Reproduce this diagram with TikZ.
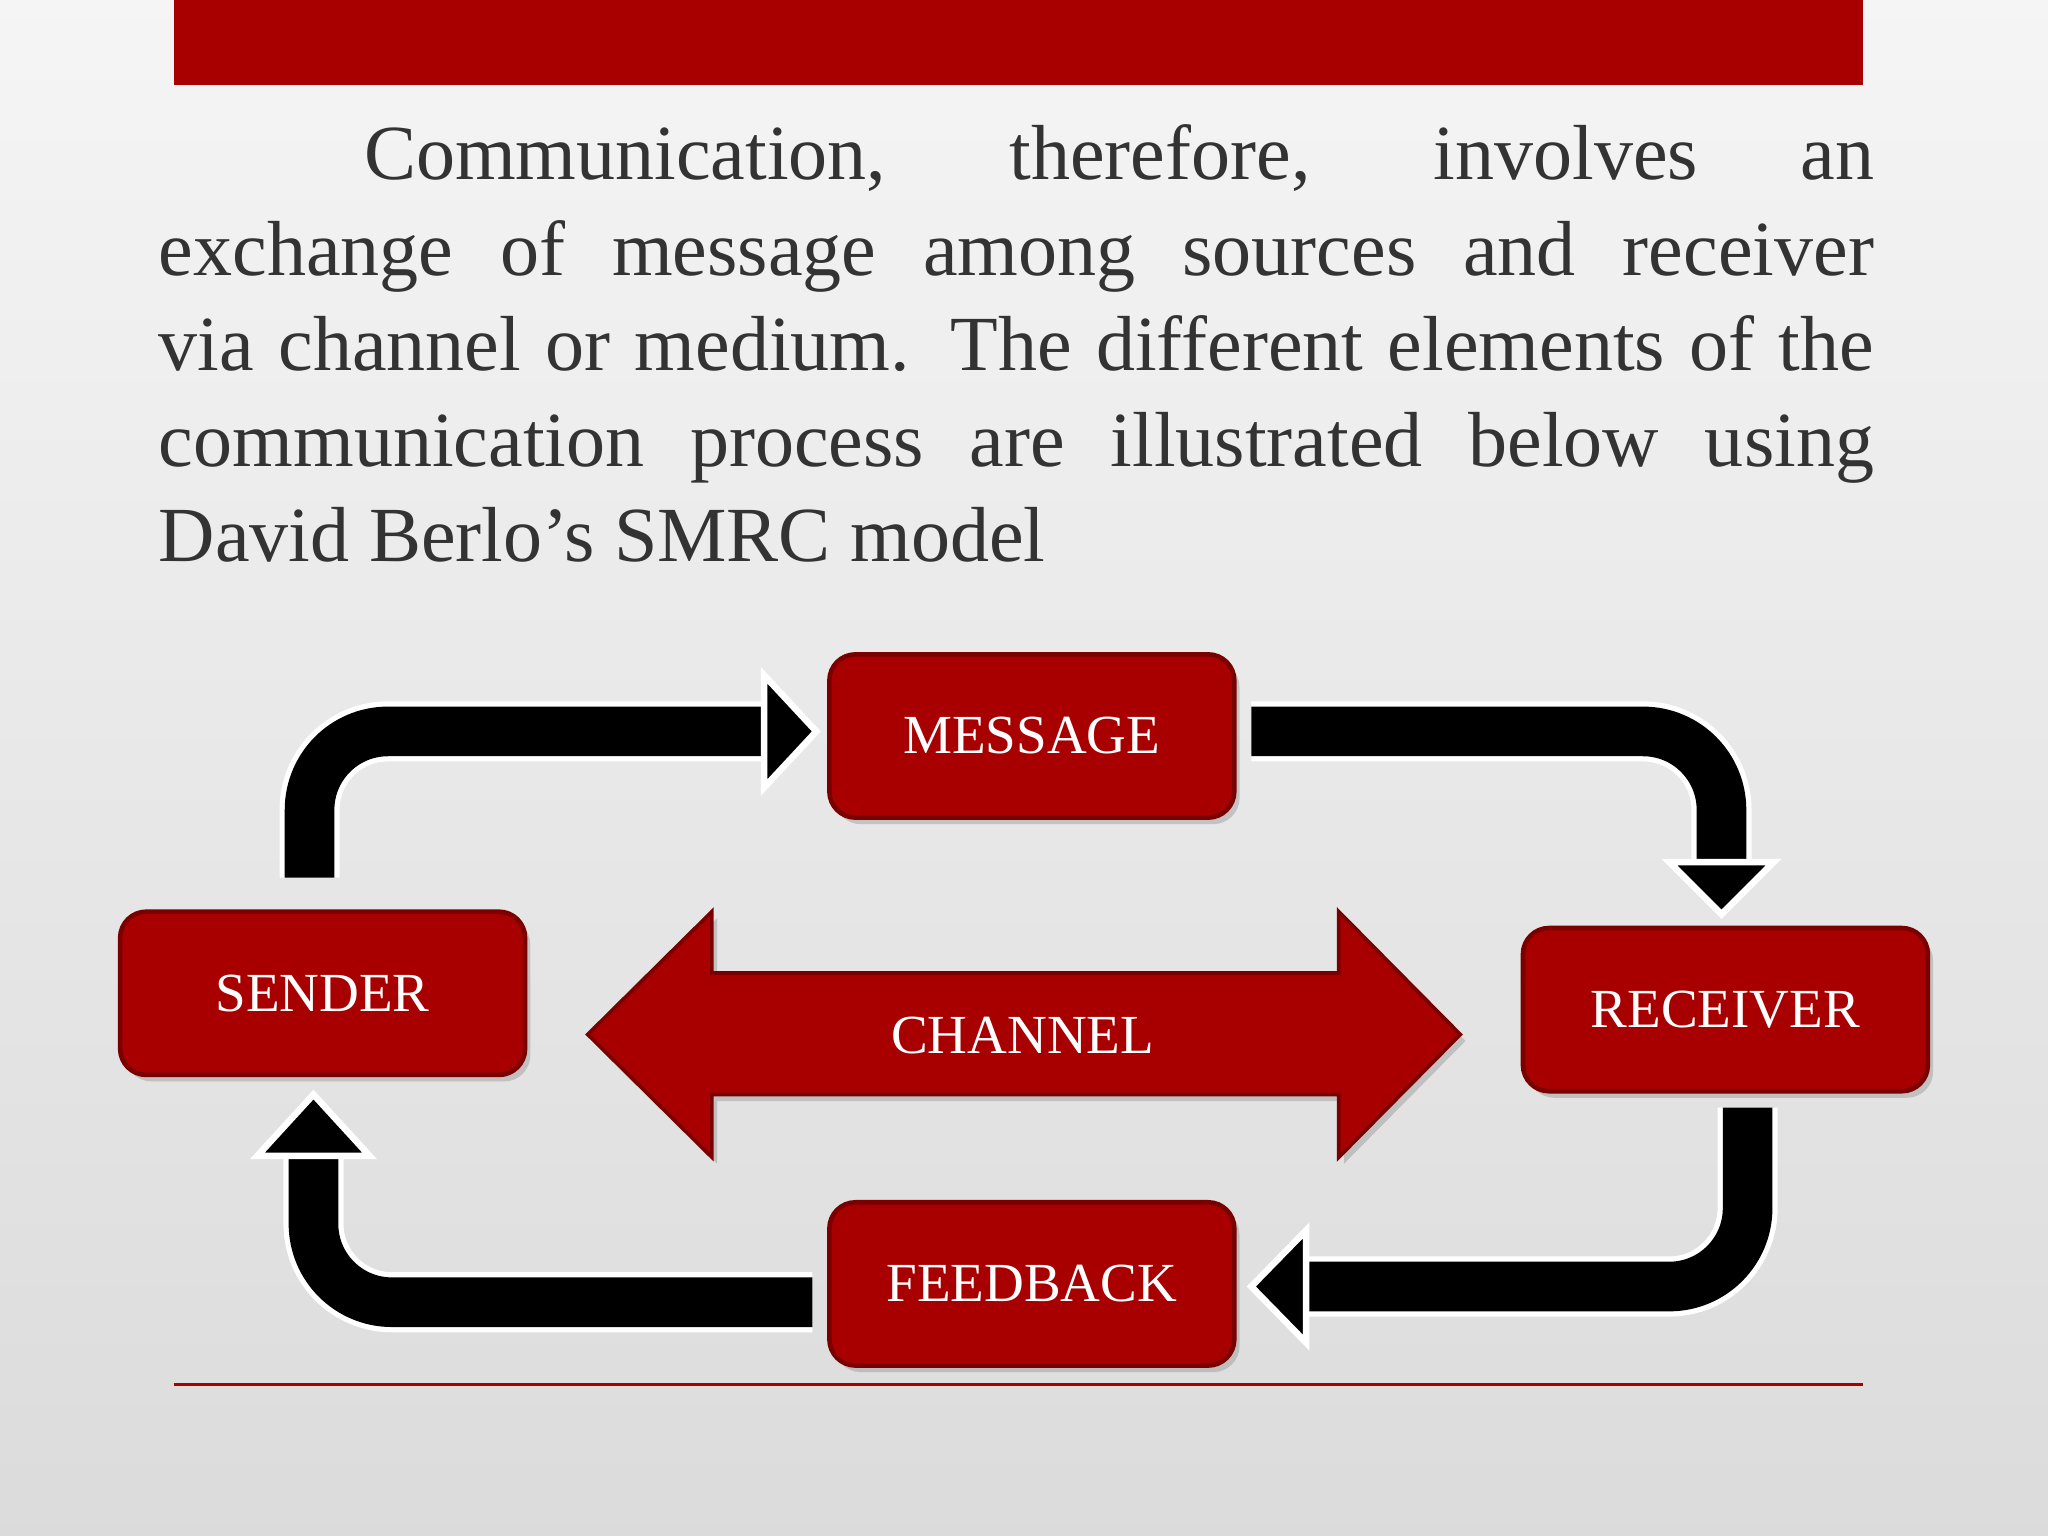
\documentclass[tikz,border=0pt]{standalone}
\usepackage{fontspec}
\setmainfont{Liberation Serif}
\usetikzlibrary{calc,positioning,shadows}
\definecolor{slidered}{HTML}{A80000}
\definecolor{boxedge}{HTML}{7A0000}

\tikzset{
  stage/.style={draw=boxedge,line width=1pt,fill=slidered,rounded corners=0.2cm,
    minimum width=3.1cm,minimum height=1.25cm,text=white,font=\fontsize{12}{14}\selectfont,
    drop shadow={opacity=0.35,shadow xshift=0.04cm,shadow yshift=-0.05cm}},
  flowback/.style={white,line width=0.46cm,rounded corners=0.6cm},
  flow/.style={black,line width=0.38cm,rounded corners=0.6cm},
  flowhead/.style={fill=black,draw=white,line width=0.05cm,line join=miter}
}

\begin{document}
\begin{tikzpicture}
  \shade[top color=gray!8,bottom color=gray!28] (0,0) rectangle (15.68,-11.76);
  \useasboundingbox (0,0) rectangle (15.68,-11.76);

  \fill[slidered] (1.33,0) rectangle (14.26,-0.65);
  \draw[slidered,line width=0.03cm] (1.33,-10.6) -- (14.26,-10.6);

  \node[anchor=north west,text width=13.13cm,align=justify,inner sep=0pt,text=black!80,
        font=\fontsize{17}{20.8}\selectfont] (para) at (1.21,-0.95)
    {\hyphenpenalty=10000\exhyphenpenalty=10000\hspace*{1.57cm}Communication, therefore, involves an exchange of message among sources and receiver via channel or medium. The different elements of the communication process are illustrated below using David Berlo’s SMRC model\par};

  % channel
  \fill[slidered,draw=boxedge,line width=0.8pt,drop shadow={opacity=0.35,shadow xshift=0.04cm,shadow yshift=-0.05cm}]
    (4.50,-7.92) -- (5.45,-6.98) -- (5.45,-7.45) -- (10.25,-7.45) -- (10.25,-6.98)
    -- (11.18,-7.92) -- (10.25,-8.86) -- (10.25,-8.38) -- (5.45,-8.38) -- (5.45,-8.86) -- cycle;
  \node[text=white,font=\fontsize{12}{14}\selectfont] (channel) at (7.83,-7.93) {CHANNEL};

  % boxes
  \node[stage] (message)  at (7.90,-5.635) {MESSAGE};
  \node[stage] (sender)   at (2.47,-7.605) {SENDER};
  \node[stage] (receiver) at (13.21,-7.73) {RECEIVER};
  \node[stage] (feedback) at (7.90,-9.83) {FEEDBACK};

  % free ends of the loop
  \coordinate (s1) at (2.37,-6.72);
  \coordinate (m1) at (5.85,-5.60);
  \coordinate (m2) at (9.58,-5.60);
  \coordinate (r1) at (13.18,-6.60);
  \coordinate (r2) at (13.38,-8.48);
  \coordinate (f1) at (10.00,-9.85);
  \coordinate (f2) at (6.22,-9.97);
  \coordinate (s2) at (2.40,-8.85);

  \foreach \st in {flowback,flow} {
    \draw[\st] (s1) |- (m1);
    \draw[\st] (m2) -| (r1);
    \draw[\st] (r2) |- (f1);
    \draw[\st] (f2) -| (s2);
  }
  \draw[flowhead] ($(m1)+(0,0.43)$) -- ($(m1)+(0.40,0)$) -- ($(m1)+(0,-0.43)$) -- cycle;
  \draw[flowhead] ($(r1)+(-0.40,0)$) -- ($(r1)+(0,-0.40)$) -- ($(r1)+(0.40,0)$) -- cycle;
  \draw[flowhead] ($(f1)+(0,0.43)$) -- ($(f1)+(-0.42,0)$) -- ($(f1)+(0,-0.43)$) -- cycle;
  \draw[flowhead] ($(s2)+(-0.43,0)$) -- ($(s2)+(0,0.47)$) -- ($(s2)+(0.43,0)$) -- cycle;
\end{tikzpicture}
\end{document}
